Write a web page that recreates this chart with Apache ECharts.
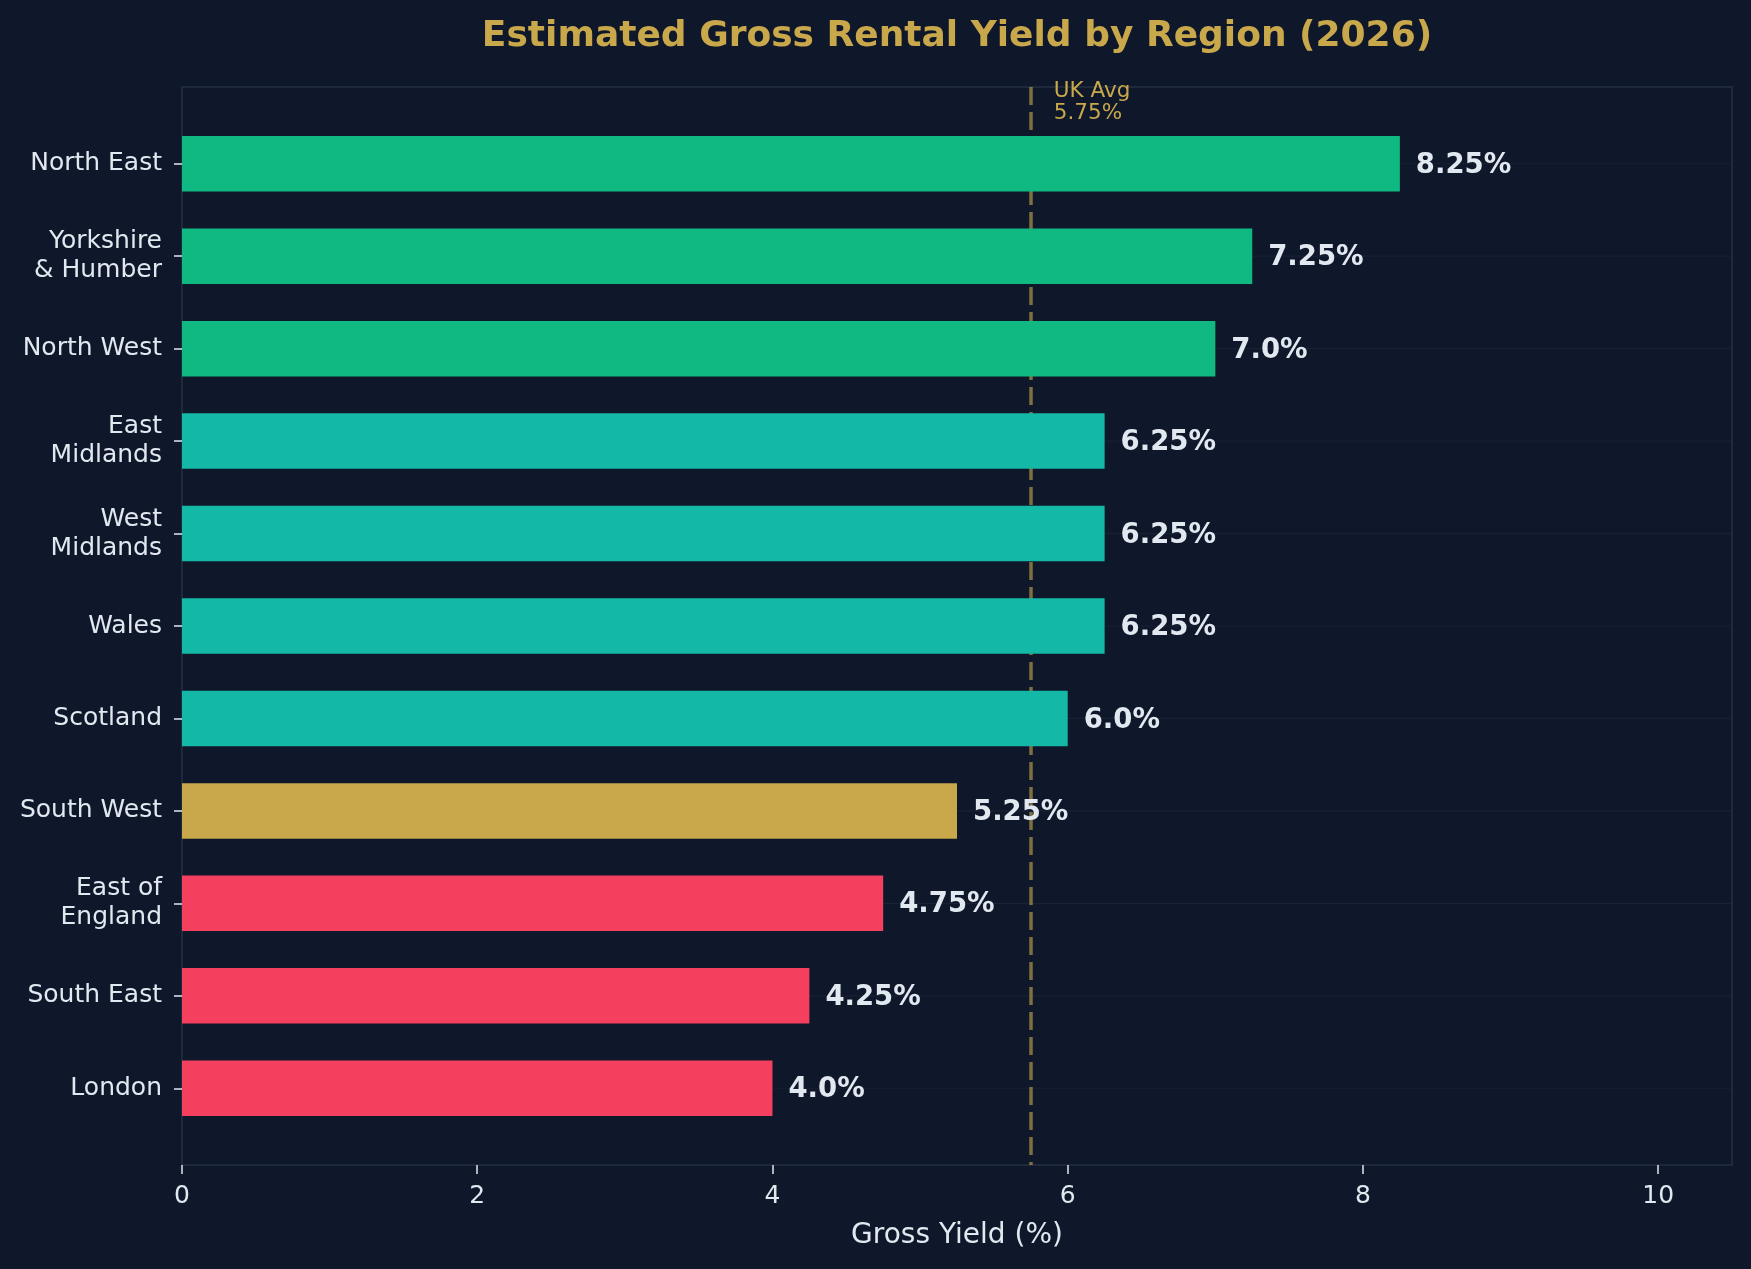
<!DOCTYPE html>
<html>
<head>
<meta charset="utf-8">
<script src="https://cdn.jsdelivr.net/npm/echarts@6/dist/echarts.min.js"></script>
<style>
  html, body { margin: 0; padding: 0; background: #0f172a; }
  #chart { width: 1751px; height: 1269px; }
</style>
</head>
<body>
<div id="chart"></div>
<script>
const regions = ['North East', 'Yorkshire\n& Humber', 'North West', 'East\nMidlands', 'West\nMidlands', 'Wales', 'Scotland', 'South West', 'East of\nEngland', 'South East', 'London'];
const yields = [8.25, 7.25, 7.0, 6.25, 6.25, 6.25, 6.0, 5.25, 4.75, 4.25, 4.0];
const xTickMax = 10;
const xTickStep = 2;
const UK_AVG = 5.75;
const X_MAX = 10.5;

const FONT = 'DejaVu Sans';
const TEXT = '#e2e8f0';
const GOLD = '#c9a84c';
const FRAME = '#1e293b';

function tierColor(v) {
  if (v >= 7) return '#10b981';
  if (v >= 6) return '#14b8a6';
  if (v >= 5) return '#c9a84c';
  return '#f43f5e';
}
function fmt(v) {
  return (Number.isInteger(v) ? v.toFixed(1) : String(v)) + '%';
}

const idx = regions.map((_, i) => i);
const barData = yields.map((v, i) => [v, i]);
const yMin = -0.83, yMax = regions.length - 1 + 0.83;

// plot frame in pixels
const G = { left: 182, right: 19, top: 87, bottom: 104 };
const plotW = 1751 - G.left - G.right;
const tickGridRight = G.right + plotW * (X_MAX - xTickMax) / X_MAX;

const chart = echarts.init(document.getElementById('chart'), null, { renderer: 'canvas' });
chart.setOption({
  backgroundColor: '#0f172a',
  animation: false,
  title: {
    text: 'Estimated Gross Rental Yield by Region (2026)',
    left: 952, top: 14, textAlign: 'center',
    textStyle: { color: GOLD, fontFamily: FONT, fontWeight: 'bold', fontSize: 36 }
  },
  grid: [
    { left: G.left, right: G.right, top: G.top, bottom: G.bottom,
      show: true, borderColor: FRAME, borderWidth: 2, backgroundColor: 'transparent' },
    { left: G.left, right: tickGridRight, top: G.top, bottom: G.bottom, show: false }
  ],
  xAxis: [
    {
      type: 'value', gridIndex: 0, min: 0, max: X_MAX,
      name: 'Gross Yield (%)', nameLocation: 'middle', nameGap: 57,
      nameTextStyle: { color: TEXT, fontFamily: FONT, fontSize: 28 },
      axisLine: { show: true, onZero: false, lineStyle: { color: FRAME, width: 2 } },
      axisTick: { show: false },
      axisLabel: { show: false },
      splitLine: { show: false }
    },
    {
      type: 'value', gridIndex: 1, min: 0, max: xTickMax, interval: xTickStep,
      axisLine: { show: false, onZero: false },
      axisTick: { show: true, length: 9, lineStyle: { color: TEXT, width: 1.5 } },
      axisLabel: { color: TEXT, fontFamily: FONT, fontSize: 25, margin: 19 },
      splitLine: { show: false }
    }
  ],
  yAxis: [
    {
      type: 'value', gridIndex: 0, inverse: true, min: yMin, max: yMax,
      axisLine: { show: true, onZero: false, lineStyle: { color: FRAME, width: 2 } },
      axisTick: { show: true, customValues: idx, length: 8, lineStyle: { color: TEXT, width: 1.5 } },
      axisLabel: {
        customValues: idx, color: TEXT, fontFamily: FONT, fontSize: 25, margin: 20, lineHeight: 29,
        padding: [6, 0, 0, 0],
        align: 'right', formatter: v => regions[Math.round(v)] || ''
      },
      splitLine: { show: false }
    },
    { type: 'value', gridIndex: 1, show: false, min: 0, max: 1 }
  ],
  series: [
    {
      type: 'custom', z: 1, silent: true, xAxisIndex: 0, yAxisIndex: 0,
      data: idx.map(i => [0, i]),
      renderItem: function (params, api) {
        const i = api.value(1);
        const a = api.coord([0, i]);
        const b = api.coord([X_MAX, i]);
        return { type: 'line', shape: { x1: a[0], y1: a[1], x2: b[0], y2: b[1] },
                 style: { stroke: 'rgba(30,41,59,0.6)', lineWidth: 1.2 } };
      },
      markLine: {
        silent: true, symbol: 'none', z: 2,
        label: { show: false },
        lineStyle: { color: 'rgba(201,168,76,0.6)', width: 3.5, type: [18, 7] },
        data: [{ xAxis: UK_AVG }]
      }
    },
    {
      type: 'custom', z: 3, xAxisIndex: 0, yAxisIndex: 0,
      data: barData,
      renderItem: function (params, api) {
        const v = api.value(0), i = api.value(1);
        const s = api.coord([0, i]);
        const e = api.coord([v, i]);
        const h = api.size([0, 0.6])[1];
        return {
          type: 'rect',
          shape: { x: s[0], y: s[1] - h / 2, width: e[0] - s[0], height: h },
          style: { fill: tierColor(v) },
          textContent: { style: { text: fmt(v), fill: TEXT, font: 'bold 27.5px "DejaVu Sans"' } },
          textConfig: { position: 'right', distance: 16, offset: [0, 2] }
        };
      }
    }
  ]
});

const p = chart.convertToPixel({ xAxisIndex: 0, yAxisIndex: 0 }, [UK_AVG, yMin]);
chart.setOption({
  graphic: [{
    type: 'text', left: p[0] + 23, top: p[1] - 7, z: 10,
    style: { text: 'UK Avg\n' + UK_AVG + '%', fill: GOLD, font: '21.5px "DejaVu Sans"', lineHeight: 22 }
  }]
});
</script>
</body>
</html>
